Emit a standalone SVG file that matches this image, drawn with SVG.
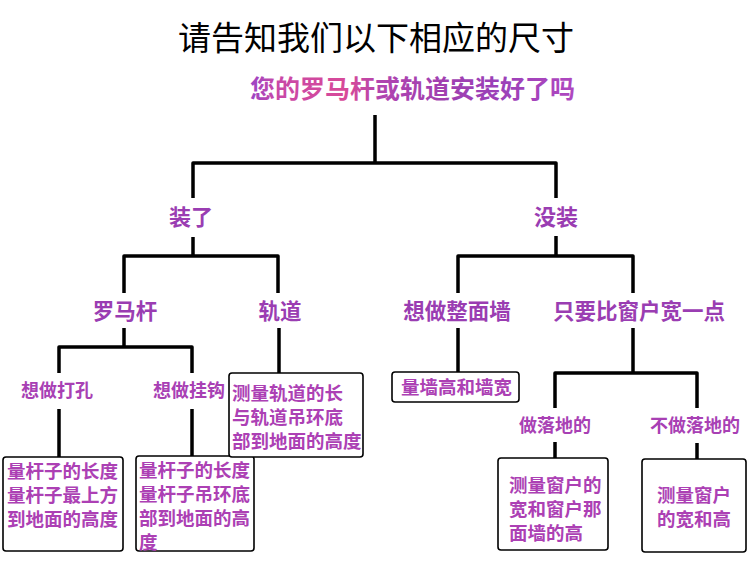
<svg xmlns="http://www.w3.org/2000/svg" width="750" height="567" viewBox="0 0 750 567">
<defs>
<linearGradient id="qg" gradientUnits="userSpaceOnUse" x1="250" y1="0" x2="577" y2="0">
<stop offset="0" stop-color="#9a44c6"/>
<stop offset="0.08" stop-color="#c848a8"/>
<stop offset="0.3" stop-color="#d84a98"/>
<stop offset="0.4" stop-color="#b044b0"/>
<stop offset="0.6" stop-color="#a03fb0"/>
<stop offset="0.75" stop-color="#9a40b8"/>
<stop offset="1" stop-color="#b048c0"/>
</linearGradient>
<style>
.cn{font-family:"Noto Sans CJK SC","Noto Sans",sans-serif;}
.title{font-size:33px;fill:#000;text-anchor:middle;}
.q{font-size:25px;font-weight:bold;fill:url(#qg);}
.l1{font-size:22px;font-weight:bold;fill:#9a3db2;text-anchor:middle;}
.l2{font-size:21.5px;font-weight:bold;fill:#9a3db2;text-anchor:middle;}
.l3{font-size:18px;font-weight:bold;fill:#a840b4;text-anchor:middle;}
.bt{font-size:18.5px;font-weight:bold;fill:#ac40b4;}
.box{fill:#fff;stroke:#000;stroke-width:1.6;}
.ln{fill:none;stroke:#000;stroke-width:3.5;stroke-linejoin:round;}
</style>
</defs>
<rect width="750" height="567" fill="#fff"/>
<g id="title"><text class="cn title" x="376" y="50">请告知我们以下相应的尺寸</text></g>
<g id="question"><text class="cn q" x="250" y="98">您的罗马杆或轨道安装好了吗</text></g>
<g id="connectors">
<path class="ln" d="M375,115 V163 M193,198 V163 H556 V198"/>
<path class="ln" d="M193,237 V256 M124,293 V256 H278 V293"/>
<path class="ln" d="M556,236 V256 M458,293 V256 H633 V293"/>
<path class="ln" d="M124,328 V347 M59,373 V347 H192 V373"/>
<path class="ln" d="M279,328 V373"/>
<path class="ln" d="M458,328 V372"/>
<path class="ln" d="M633,328 V373 M555,408 V373 H697 V408"/>
<path class="ln" d="M59,409 V457 M192,409 V456"/>
<path class="ln" d="M555,442 V458 M697,443 V459"/>
</g>
<g id="installed"><text class="cn l1" x="191" y="225">装了</text></g>
<g id="not-installed"><text class="cn l1" x="556" y="225">没装</text></g>
<g id="roman-rod"><text class="cn l2" x="125" y="319">罗马杆</text></g>
<g id="track"><text class="cn l2" x="280" y="319">轨道</text></g>
<g id="whole-wall"><text class="cn l2" x="457" y="319">想做整面墙</text></g>
<g id="wider-window"><text class="cn l2" x="639" y="319">只要比窗户宽一点</text></g>
<g id="drill"><text class="cn l3" x="57" y="397">想做打孔</text></g>
<g id="hook"><text class="cn l3" x="189" y="397">想做挂钩</text></g>
<g id="floor"><text class="cn l3" x="555" y="432">做落地的</text></g>
<g id="no-floor"><text class="cn l3" x="695" y="432">不做落地的</text></g>
<g id="box-drill">
<rect class="box" x="3" y="457" width="120" height="94" rx="3"/>
<text class="cn bt" x="7" y="478">量杆子的长度</text>
<text class="cn bt" x="7" y="502">量杆子最上方</text>
<text class="cn bt" x="7" y="526">到地面的高度</text>
</g>
<g id="box-hook">
<rect class="box" x="136" y="456" width="118" height="95" rx="3"/>
<text class="cn bt" x="139" y="477">量杆子的长度</text>
<text class="cn bt" x="139" y="501">量杆子吊环底</text>
<text class="cn bt" x="139" y="525">部到地面的高</text>
<text class="cn bt" x="139" y="549">度</text>
</g>
<g id="box-track">
<rect class="box" x="229" y="373" width="134" height="84" rx="3"/>
<text class="cn bt" x="232" y="400">测量轨道的长</text>
<text class="cn bt" x="232" y="424">与轨道吊环底</text>
<text class="cn bt" x="232" y="448">部到地面的高度</text>
</g>
<g id="box-wall">
<rect class="box" x="392" y="372" width="127" height="30" rx="3"/>
<text class="cn bt" x="401" y="394">量墙高和墙宽</text>
</g>
<g id="box-floor">
<rect class="box" x="498" y="458" width="110" height="92" rx="3"/>
<text class="cn bt" x="509" y="492">测量窗户的</text>
<text class="cn bt" x="509" y="516">宽和窗户那</text>
<text class="cn bt" x="509" y="540">面墙的高</text>
</g>
<g id="box-no-floor">
<rect class="box" x="642" y="459" width="104" height="93" rx="3"/>
<text class="cn bt" x="657" y="502">测量窗户</text>
<text class="cn bt" x="657" y="526">的宽和高</text>
</g>
</svg>
